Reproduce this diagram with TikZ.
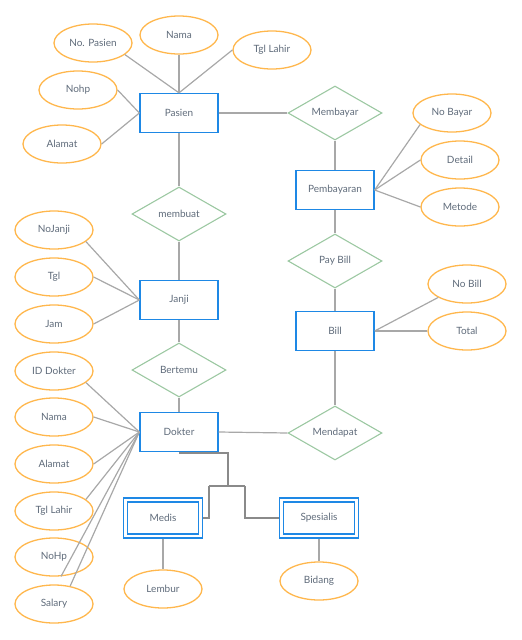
\documentclass[tikz,border=0pt]{standalone}
\usepackage{fontspec}
\setmainfont{Lato}
\usetikzlibrary{shapes.geometric}
\definecolor{entblue}{HTML}{1E88E5}
\definecolor{attorange}{HTML}{FFB74D}
\definecolor{relgreen}{HTML}{9CC8A2}
\definecolor{txtgray}{HTML}{5F6B7A}
\definecolor{lngray}{HTML}{A8A8A8}
\definecolor{hiergray}{HTML}{8A8A8A}
\begin{document}
\begin{tikzpicture}[x=1pt,y=-1pt,
  every node/.style={font=\fontsize{10}{12}\selectfont, text=txtgray, inner sep=0pt},
  ent/.style={draw=entblue, line width=1.3pt, rectangle, minimum width=78pt, minimum height=39pt},
  weakout/.style={draw=entblue, line width=1.2pt, rectangle, minimum width=79pt, minimum height=40pt},
  weakin/.style={draw=entblue, line width=1.2pt, rectangle, minimum width=71pt, minimum height=32pt},
  att/.style={draw=attorange, line width=1.3pt, ellipse, minimum width=78pt, minimum height=38pt},
  rel/.style={draw=relgreen, line width=1.1pt, diamond, aspect=1.74, minimum width=94pt, minimum height=54pt},
  conn/.style={draw=lngray, line width=1.2pt},
  hier/.style={draw=hiergray, line width=1.7pt}
]
\useasboundingbox (0,0) rectangle (522,640);
% entities
\node[ent] (pasien) at (179,113) {Pasien};
\node[ent] (janji) at (179,300) {Janji};
\node[ent] (dokter) at (179,432) {Dokter};
\node[ent] (pembayaran) at (335,190) {Pembayaran};
\node[ent] (bill) at (335,331) {Bill};
\node[weakout] (medis) at (163,518) {};
\node[weakin] (medisin) at (163,518) {Medis};
\node[weakout] (spesialis) at (319,518) {};
\node[weakin] (spesialisin) at (319,518) {Spesialis};
% relationships
\node[rel] (membayar) at (335,113) {Membayar};
\node[rel] (membuat) at (179,214) {membuat};
\node[rel] (bertemu) at (179,370) {Bertemu};
\node[rel] (paybill) at (335,261) {Pay Bill};
\node[rel] (mendapat) at (335,433) {Mendapat};
% attributes pasien
\node[att] (nama) at (179,35) {Nama};
\node[att] (nopasien) at (93,43) {No. Pasien};
\node[att] (tgllahirp) at (272,50) {Tgl Lahir};
\node[att] (nohpp) at (78,90) {Nohp};
\node[att] (alamatp) at (62,144) {Alamat};
% attributes pembayaran
\node[att] (nobayar) at (452,113) {No Bayar};
\node[att] (detail) at (460,160) {Detail};
\node[att] (metode) at (460,207) {Metode};
% attributes bill
\node[att] (nobill) at (467,284) {No Bill};
\node[att] (total) at (467,331) {Total};
% attributes janji
\node[att] (nojanji) at (54,230) {NoJanji};
\node[att] (tglj) at (54,277) {Tgl};
\node[att] (jam) at (54,324) {Jam};
% attributes dokter
\node[att] (iddokter) at (54,371) {ID Dokter};
\node[att] (namad) at (54,417) {Nama};
\node[att] (alamatd) at (54,464) {Alamat};
\node[att] (tgllahird) at (54,511) {Tgl Lahir};
\node[att] (nohpd) at (54,557) {NoHp};
\node[att] (salary) at (54,604) {Salary};
% weak attributes
\node[att] (lembur) at (163,589) {Lembur};
\node[att] (bidang) at (319,581) {Bidang};

% connectors pasien
\draw[conn] (nama.south) -- (pasien.north);
\draw[conn] (nopasien.340) -- (pasien.north);
\draw[conn] (tgllahirp.west) -- (pasien.north);
\draw[conn] (nohpp.east) -- (pasien.west);
\draw[conn] (alamatp.east) -- (pasien.west);
% relationships
\draw[conn] (pasien.east) -- (membayar.west);
\draw[conn] (membayar.south) -- (pembayaran.north);
\draw[conn] (pembayaran.south) -- (paybill.north);
\draw[conn] (paybill.south) -- (bill.north);
\draw[conn] (bill.south) -- (mendapat.north);
\draw[conn] (dokter.east) -- (mendapat.west);
\draw[conn] (pasien.south) -- (membuat.north);
\draw[conn] (membuat.south) -- (janji.north);
\draw[conn] (janji.south) -- (bertemu.north);
\draw[conn] (bertemu.south) -- (dokter.north);
% pembayaran attrs
\draw[conn] (nobayar.200) -- (pembayaran.east);
\draw[conn] (detail.west) -- (pembayaran.east);
\draw[conn] (metode.west) -- (pembayaran.east);
% bill attrs
\draw[conn] (nobill.205) -- (bill.east);
\draw[conn] (total.west) -- (bill.east);
% janji attrs
\draw[conn] (nojanji.340) -- (janji.west);
\draw[conn] (tglj.east) -- (janji.west);
\draw[conn] (jam.east) -- (janji.west);
% dokter attrs
\draw[conn] (iddokter.340) -- (dokter.west);
\draw[conn] (namad.east) -- (dokter.west);
\draw[conn] (alamatd.east) -- (dokter.west);
\draw[conn] (tgllahird.20) -- (dokter.west);
\draw[conn] (nohpd.290) -- (dokter.west);
\draw[conn] (salary.48) -- (dokter.west);
% weak attrs
\draw[conn] (medis.south) -- (lembur.north);
\draw[conn] (spesialis.south) -- (bidang.north);
% hierarchy
\coordinate (hc) at (228,486);
\coordinate (hl) at (209,486);
\coordinate (hr) at (245,486);
\draw[hier] ([yshift=-1pt]dokter.south) -| (hc);
\draw[hier] (hl) -- (hr);
\draw[hier] (hl) |- (medis.east);
\draw[hier] (hr) |- (spesialis.west);
\end{tikzpicture}
\end{document}
